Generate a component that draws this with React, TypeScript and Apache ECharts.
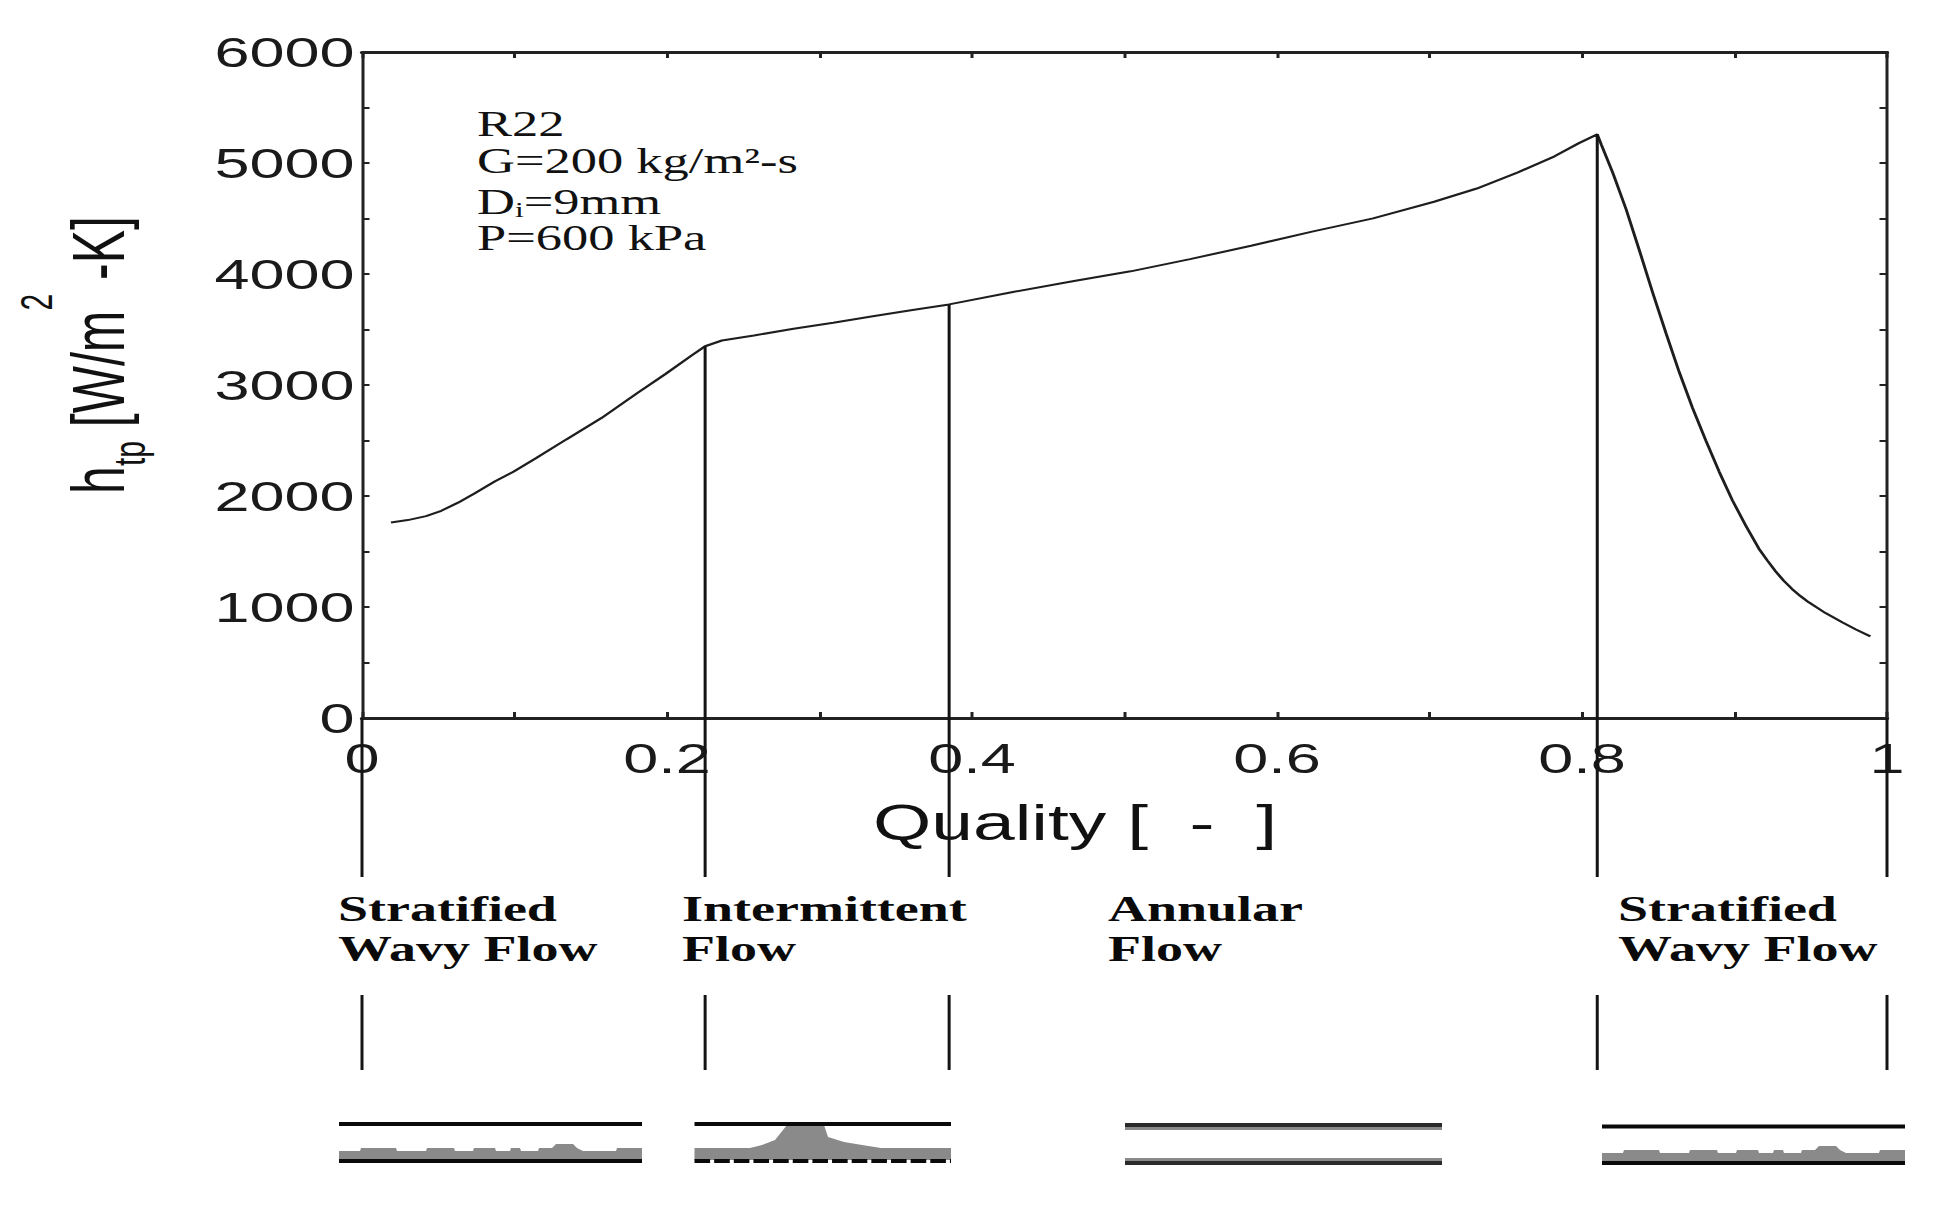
import React, { useEffect, useRef } from 'react';
import * as echarts from 'echarts';

// ---- data ----
const qualityX = [
  0.019, 0.03, 0.042, 0.052, 0.063, 0.074, 0.087, 0.099, 0.114, 0.134, 0.157, 0.18, 0.199, 0.216, 0.225,
  0.236, 0.257, 0.283, 0.309, 0.335, 0.361, 0.385,
  0.426, 0.466, 0.504, 0.543, 0.583, 0.623, 0.663, 0.703, 0.731, 0.758, 0.782, 0.798, 0.81,
  0.8127, 0.8203, 0.829, 0.8377, 0.8464, 0.8551, 0.8638, 0.8725, 0.8812, 0.8899, 0.8986, 0.9073, 0.916,
  0.9215, 0.9269, 0.9323, 0.9378, 0.9432, 0.9487, 0.9597, 0.9706, 0.9793, 0.9891,
];
const htpY = [
  1762, 1783, 1819, 1867, 1940, 2024, 2130, 2217, 2340, 2510, 2702, 2922, 3099, 3265, 3349,
  3401, 3446, 3506, 3560, 3620, 3675, 3726,
  3836, 3934, 4024, 4134, 4254, 4382, 4501, 4651, 4770, 4916, 5060, 5179, 5258,
  5164, 4907, 4580, 4210, 3830, 3466, 3114, 2793, 2500, 2220, 1962, 1735, 1525,
  1420, 1322, 1236, 1162, 1099, 1042, 945, 862, 800, 735,
];
const boundaryX = [0.225, 0.385, 0.81];
const regimeEdgeX = [0, 0.225, 0.385, 0.81, 1];
const regimeNames = ['Stratified\nWavy Flow', 'Intermittent\nFlow', 'Annular\nFlow', 'Stratified\nWavy Flow'];
const conditionLines = ['{a|R22}', '{a|G=200 kg/m²-s}', '{a|D}{sb|i}{a|=9mm}', '{a|P=600 kPa}'];
const xName = 'Quality [  -  ]';
const yName = '{m|h}{sub|tp}{m| [W/m}{sup|2}{m| -K]}';

// ---- layout (the reference picture is stretched horizontally) ----
const S = 1.5;
const PAGE_W = 1944;
const PAGE_H = 1218;
const W = PAGE_W / S;
const px = (v: number) => v / S;

const heightAt = (x: number) => {
  const i = qualityX.indexOf(x);
  return boundaryX.includes(x) && i >= 0 ? htpY[i] : 0;
};

const wave: [number, number][] = [
  [0, 0], [21, 0], [22, -3], [57, -3], [58, 0], [87, 0], [88, -3], [115, -3], [116, 0], [134, 0],
  [135, -3], [156, -3], [157, 0], [171, 0], [172, -3], [181, -3], [182, 0], [199, 0], [200, -3],
  [213, -3], [217, -7], [234, -7], [238, -3], [244, 0], [277, 0], [278, -3], [303, -3],
];

function stratPipe(x0: number, topWall: number, level: number, bottom: number) {
  const len = 303;
  const pts = wave.map(([dx, dy]) => [px(x0 + dx), level + dy]);
  pts.push([px(x0 + len), bottom], [px(x0), bottom]);
  return [
    { type: 'rect', shape: { x: px(x0), y: topWall - 2, width: px(len), height: 4 }, style: { fill: '#0a0a0a' } },
    { type: 'polygon', shape: { points: pts }, style: { fill: '#8a8a8a' } },
    { type: 'rect', shape: { x: px(x0), y: bottom - 1, width: px(len), height: 4 }, style: { fill: '#0a0a0a' } },
  ];
}

function slugPipe() {
  const x0 = 694.5, x1 = 951;
  const shape = [
    [694.5, 1148], [750, 1148], [762, 1145], [775, 1140], [787, 1125], [824, 1125], [828, 1137],
    [844, 1142], [856, 1144], [881, 1148], [951, 1148], [951, 1160], [694.5, 1160],
  ].map(([x, y]) => [px(x), y]);
  return [
    { type: 'polygon', shape: { points: shape }, style: { fill: '#8a8a8a' } },
    { type: 'rect', shape: { x: px(x0), y: 1122, width: px(x1 - x0), height: 4 }, style: { fill: '#0a0a0a' } },
    {
      type: 'line',
      shape: { x1: px(x0), y1: 1161, x2: px(x1), y2: 1161 },
      style: { stroke: '#0a0a0a', lineWidth: 4, lineDash: [10.4, 2.7] },
    },
  ];
}

function annularPipe() {
  const x0 = 1125, x1 = 1442;
  return [
    { type: 'rect', shape: { x: px(x0), y: 1123, width: px(x1 - x0), height: 4 }, style: { fill: '#2a2a2a' } },
    { type: 'rect', shape: { x: px(x0), y: 1127, width: px(x1 - x0), height: 3 }, style: { fill: '#8a8a8a' } },
    { type: 'rect', shape: { x: px(x0), y: 1158, width: px(x1 - x0), height: 3 }, style: { fill: '#8a8a8a' } },
    { type: 'rect', shape: { x: px(x0), y: 1161, width: px(x1 - x0), height: 4 }, style: { fill: '#2a2a2a' } },
  ];
}

const regimeLabelX = [338, 682, 1108, 1618];
const conditionY = [124, 161, 202, 238];

export default function App() {
  const ref = useRef<HTMLDivElement>(null);

  useEffect(() => {
    if (!ref.current) return;
    const chart = echarts.init(ref.current, undefined, { renderer: 'svg' });
    const axisColor = '#222';
    const labelFont = { fontFamily: 'Liberation Sans', fontSize: 42, color: '#1a1a1a' };

    const graphicEls: any[] = [];
    conditionLines.forEach((t, i) => {
      graphicEls.push({
        type: 'text',
        x: px(477),
        y: conditionY[i],
        style: {
          text: t,
          fill: '#111',
          fontFamily: 'Liberation Serif',
          fontSize: 35,
          verticalAlign: 'middle',
          align: 'left',
          rich: {
            a: { fontFamily: 'Liberation Serif', fontSize: 35, lineHeight: 36, fill: '#111' },
            sb: { fontFamily: 'Liberation Serif', fontSize: 21, lineHeight: 16, verticalAlign: 'bottom', fill: '#111' },
          },
        },
      });
    });
    regimeNames.forEach((t, i) => {
      graphicEls.push({
        type: 'text',
        x: px(regimeLabelX[i]),
        y: 929,
        style: {
          text: t,
          fill: '#0a0a0a',
          fontFamily: 'Liberation Serif',
          fontWeight: 'bold',
          fontSize: 36,
          lineHeight: 40.5,
          verticalAlign: 'middle',
          align: 'left',
        },
      });
    });
    graphicEls.push(...stratPipe(339, 1124, 1151, 1160));
    graphicEls.push(...slugPipe());
    graphicEls.push(...annularPipe());
    graphicEls.push(...stratPipe(1602, 1126.5, 1153, 1162));

    const boxAxisX = (pos: 'bottom' | 'top') => ({
      type: 'value',
      min: 0,
      max: 1,
      interval: 0.2,
      position: pos,
      axisLine: { show: true, onZero: false, lineStyle: { color: axisColor, width: 3 } },
      axisTick: { show: true, inside: true, length: 6, lineStyle: { color: axisColor, width: 2 } },
      minorTick: { show: true, splitNumber: 2, length: 6, lineStyle: { color: axisColor, width: 2 } },
      splitLine: { show: false },
      minorSplitLine: { show: false },
    });
    const boxAxisY = (pos: 'left' | 'right') => ({
      type: 'value',
      min: 0,
      max: 6000,
      interval: 1000,
      position: pos,
      axisLine: { show: true, onZero: false, lineStyle: { color: axisColor, width: 2 } },
      axisTick: { show: true, inside: true, length: 5, lineStyle: { color: axisColor, width: 2 } },
      minorTick: { show: true, splitNumber: 2, length: 5, lineStyle: { color: axisColor, width: 2 } },
      splitLine: { show: false },
      minorSplitLine: { show: false },
    });

    chart.setOption({
      animation: false,
      backgroundColor: '#ffffff',
      grid: { left: px(362), right: W - px(1887), top: 52, bottom: PAGE_H - 718, containLabel: false },
      xAxis: [
        {
          ...boxAxisX('bottom'),
          axisLabel: { ...labelFont, margin: 19, formatter: (v: number) => String(Math.round(v * 10) / 10) },
          name: xName,
          nameLocation: 'middle',
          nameGap: 80,
          nameTextStyle: { fontFamily: 'Liberation Sans', fontSize: 50, color: '#111', padding: [0, 66, 0, 0] },
        },
        { ...boxAxisX('top'), axisLabel: { show: false } },
      ],
      yAxis: [
        {
          ...boxAxisY('left'),
          axisLabel: { ...labelFont, margin: 5, formatter: (v: number) => String(Math.round(v)) },
          name: yName,
          nameLocation: 'middle',
          nameRotate: 90,
          nameGap: 120,
          nameTextStyle: {
            fontFamily: 'Liberation Sans',
            fontSize: 50,
            color: '#111',
            padding: [0, 0, 0, 60],
            rich: {
              m: { fontFamily: 'Liberation Sans', fontSize: 50, lineHeight: 112, color: '#111' },
              sub: { fontFamily: 'Liberation Sans', fontSize: 30, lineHeight: 34, verticalAlign: 'bottom', padding: [0, 0, 20, 0], color: '#111' },
              sup: { fontFamily: 'Liberation Sans', fontSize: 30, lineHeight: 12, verticalAlign: 'top', color: '#111' },
            },
          },
        },
        { ...boxAxisY('right'), axisLabel: { show: false } },
      ],
      graphic: { elements: graphicEls },
      series: [
        {
          type: 'line',
          name: 'h_tp',
          data: qualityX.map((x, i) => [x, htpY[i]]),
          showSymbol: false,
          symbol: 'none',
          lineStyle: { color: '#1e1e1e', width: 2 },
          z: 3,
        },
        {
          type: 'custom',
          name: 'regime boundaries',
          data: regimeEdgeX.map((x) => [x, heightAt(x)]),
          encode: { x: 0, y: 1 },
          clip: false,
          z: 4,
          renderItem: (_params: any, api: any) => {
            const x = api.value(0);
            const h = api.value(1);
            const top = api.coord([x, h]);
            const base = api.coord([x, 0]);
            const style = { stroke: '#141414', lineWidth: 2, fill: 'none' };
            return {
              type: 'group',
              children: [
                { type: 'line', shape: { x1: base[0], y1: top[1], x2: base[0], y2: base[1] + 159 }, style },
                { type: 'line', shape: { x1: base[0], y1: base[1] + 277, x2: base[0], y2: base[1] + 352 }, style },
              ],
            };
          },
        },
      ],
    });
    return () => chart.dispose();
  }, []);

  return (
    <div
      style={{
        position: 'fixed',
        left: 0,
        top: 0,
        width: PAGE_W,
        height: PAGE_H,
        overflow: 'hidden',
        background: '#fff',
      }}
    >
      <div
        ref={ref}
        style={{ width: W, height: PAGE_H, transform: `scaleX(${S})`, transformOrigin: '0 0' }}
      />
    </div>
  );
}
